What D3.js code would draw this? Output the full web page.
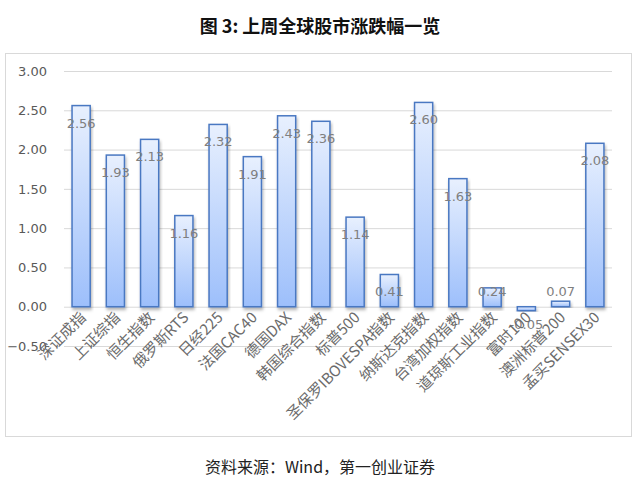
<!DOCTYPE html>
<html>
<head>
<meta charset="utf-8">
<script src="https://cdn.jsdelivr.net/npm/d3@7"></script>
<style>
  body { margin: 0; background: #fff; }
  text { font-family: "Noto Sans CJK SC", "Noto Sans", sans-serif; }
</style>
</head>
<body>
<div id="chart"></div>
<script>
var categories = ["深证成指", "上证综指", "恒生指数", "俄罗斯RTS", "日经225", "法国CAC40", "德国DAX",
  "韩国综合指数", "标普500", "圣保罗IBOVESPA指数", "纳斯达克指数", "台湾加权指数", "道琼斯工业指数",
  "富时100", "澳洲标普200", "孟买SENSEX30"];
var values = [2.56, 1.93, 2.13, 1.16, 2.32, 1.91, 2.43, 2.36, 1.14, 0.41, 2.60, 1.63, 0.24, -0.05, 0.07, 2.08];
var yTicks = [-0.5, 0, 0.5, 1, 1.5, 2, 2.5, 3];

var W = 640, H = 483;
var margin = {top: 71, right: 28, bottom: 137, left: 64};
var width = W - margin.left - margin.right,
    height = H - margin.top - margin.bottom;

var svg = d3.select("#chart").append("svg")
    .attr("width", W)
    .attr("height", H);

var defs = svg.append("defs");
var grad = defs.append("linearGradient")
    .attr("id", "barGrad")
    .attr("x1", 0).attr("y1", 0).attr("x2", 0).attr("y2", 1);
grad.append("stop").attr("offset", "0%").attr("stop-color", "#e8f0fe");
grad.append("stop").attr("offset", "100%").attr("stop-color", "#9dbffb");

var shadow = defs.append("filter").attr("id", "shadow")
    .attr("x", "-20%").attr("y", "-20%").attr("width", "140%").attr("height", "140%");
shadow.append("feDropShadow")
    .attr("dx", 1).attr("dy", 2.5).attr("stdDeviation", 1.8)
    .attr("flood-color", "#000").attr("flood-opacity", 0.3);

// title
svg.append("text")
    .attr("x", W / 2).attr("y", 33)
    .attr("text-anchor", "middle")
    .style("font-size", "18px").style("font-weight", "bold").style("fill", "#111")
    .text("图 3:  上周全球股市涨跌幅一览");

// outer frame
svg.append("rect")
    .attr("x", 5.5).attr("y", 53.5)
    .attr("width", 626).attr("height", 383)
    .attr("fill", "none").attr("stroke", "#d9d9d9");

// source
svg.append("text")
    .attr("x", W / 2).attr("y", 473)
    .attr("text-anchor", "middle")
    .style("font-size", "16px").style("fill", "#222")
    .text("资料来源：Wind，第一创业证券");

var g = svg.append("g")
    .attr("transform", "translate(" + margin.left + "," + margin.top + ")");

var x = d3.scaleBand()
    .domain(categories)
    .range([0, width])
    .paddingInner(0.47)
    .paddingOuter(0.235);
var y = d3.scaleLinear().domain([-0.5, 3]).range([275, 0]);

// grid lines
g.append("g")
    .call(d3.axisLeft(y).tickValues(yTicks).tickSize(-width).tickFormat(d3.format(".2f")))
    .call(function(s) {
      s.select(".domain").remove();
      s.selectAll(".tick line").attr("stroke", "#d9d9d9");
      s.selectAll(".tick text")
        .attr("x", -17)
        .style("font-size", "13px")
        .style("fill", "#595959")
        .style("font-family", "'DejaVu Sans', Arial, sans-serif");
    });

// bars
g.selectAll(".bar")
  .data(values)
  .enter().append("rect")
    .attr("class", "bar")
    .attr("x", function(d, i) { return x(categories[i]); })
    .attr("width", x.bandwidth())
    .attr("y", function(d) { return y(Math.max(0, d)); })
    .attr("height", function(d) { return Math.abs(y(d) - y(0)); })
    .attr("fill", "url(#barGrad)")
    .attr("stroke", "#4a78c2")
    .attr("stroke-width", 1.5)
    .attr("filter", "url(#shadow)");

// value labels
g.selectAll(".val")
  .data(values)
  .enter().append("text")
    .attr("class", "val")
    .attr("x", function(d, i) { return x(categories[i]) + x.bandwidth() / 2; })
    .attr("y", function(d) {
      if (d < 0) return y(0) + 22;
      return Math.min(y(d) + 22, y(0) - 11);
    })
    .attr("text-anchor", "middle")
    .style("font-size", "13px")
    .style("fill", "#7f7f7f")
    .style("font-family", "'DejaVu Sans', Arial, sans-serif")
    .text(function(d) { return d.toFixed(2); });

// category labels
g.selectAll(".cat")
  .data(categories)
  .enter().append("text")
    .attr("class", "cat")
    .attr("transform", function(d) {
      return "translate(" + (x(d) + x.bandwidth() / 2 + 2) + "," + (y(0) + 8) + ") rotate(-45)";
    })
    .attr("text-anchor", "end")
    .attr("dy", "0.35em")
    .style("font-size", "15px")
    .style("fill", "#6b6b6b")
    .text(function(d) { return d; });
</script>
</body>
</html>
